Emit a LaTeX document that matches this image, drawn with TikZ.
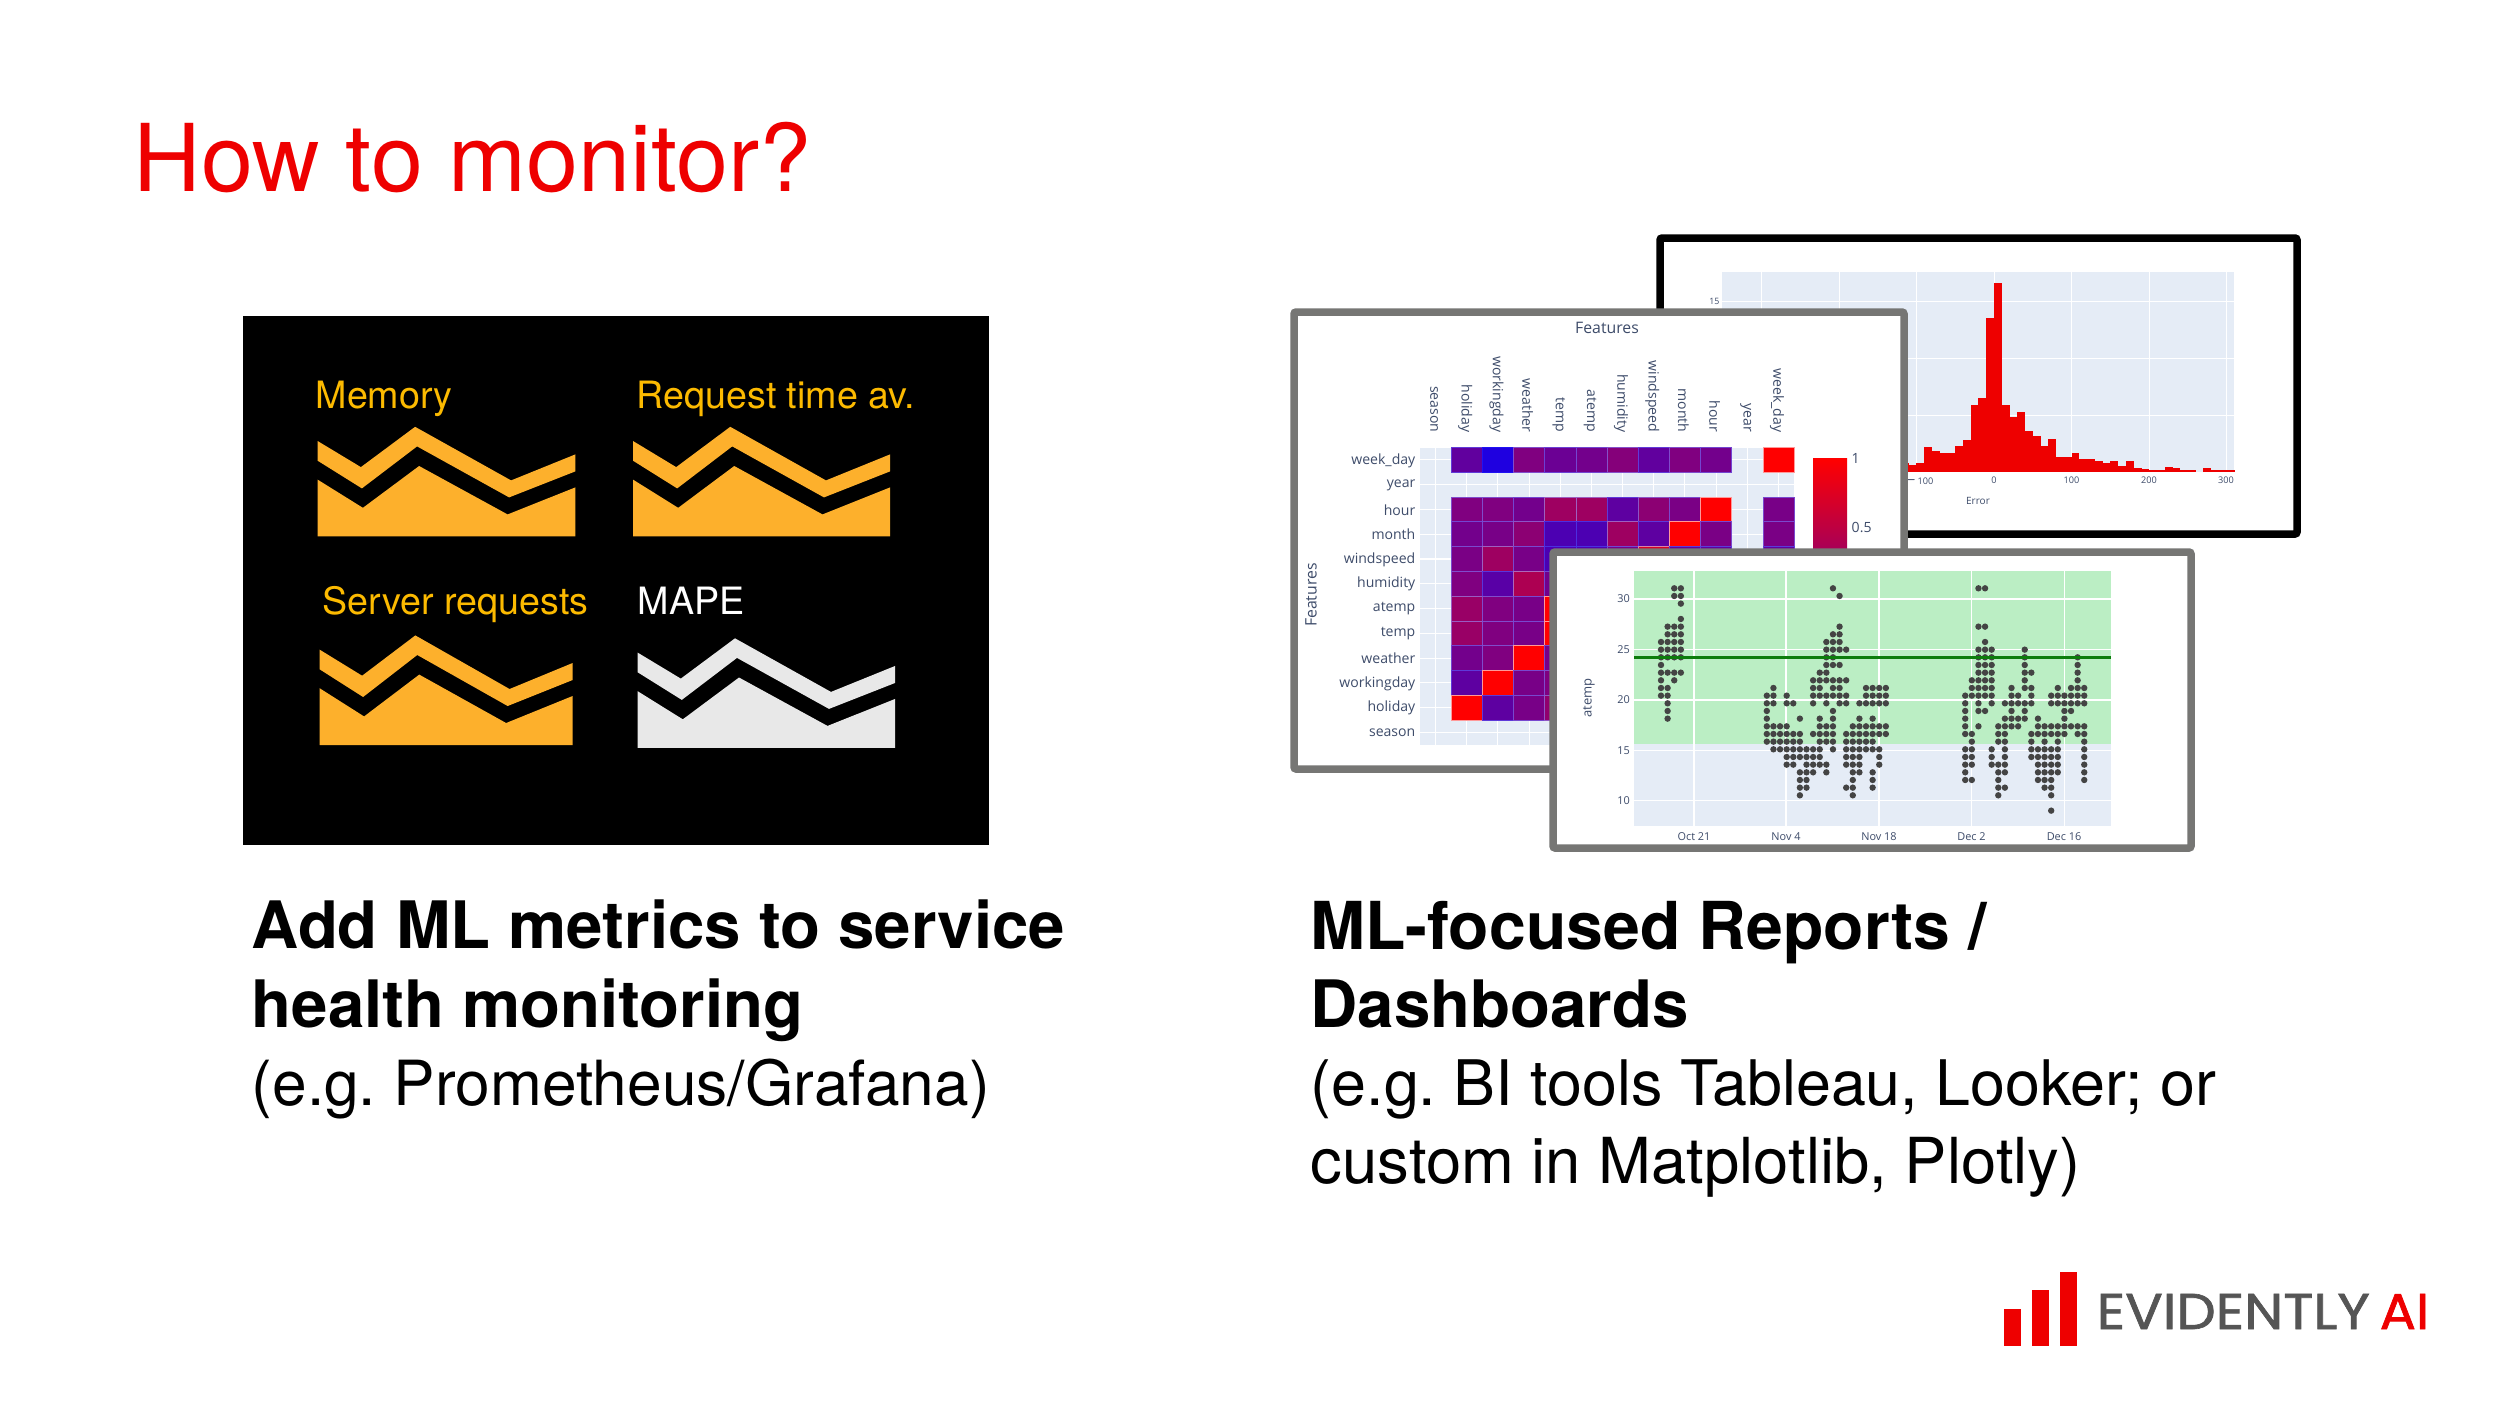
\documentclass[tikz,border=0pt]{standalone}
\usepackage{fontspec}
\setmainfont{TeX Gyre Heros}
\newfontfamily\plotfont{Open Sans}
\newfontfamily\logofont[FakeBold=1.3]{Poppins}
\usepackage{tikz}
\definecolor{titlered}{RGB}{238,0,0}
\definecolor{barorange}{RGB}{253,176,44}
\definecolor{lblorange}{RGB}{252,186,0}
\definecolor{bargrey}{RGB}{232,232,232}
\definecolor{framegrey}{RGB}{118,118,116}
\definecolor{plotbg}{RGB}{229,236,246}
\definecolor{plotgreen}{RGB}{187,238,196}
\definecolor{plotline}{RGB}{12,125,12}
\definecolor{plottext}{RGB}{62,76,106}
\definecolor{dotgrey}{RGB}{68,68,68}
\definecolor{logogrey}{RGB}{85,85,85}
\newcommand{\thinner}[1]{\fontsize{#1pt}{22.2pt}\selectfont}
\tikzset{
    lbl/.style={inner sep=0pt,anchor=base west,font=\fontsize{10.7pt}{12pt}\selectfont},
    body/.style={inner sep=0pt,anchor=north west,align=left,font=\frenchspacing\fontsize{18.6pt}{22.2pt}\selectfont},
    frm/.style={line width=0.75mm,rounded corners=0.6pt,fill=white},
    axlbl/.style={inner sep=0pt,text=plottext,font=\plotfont\fontsize{3.1pt}{4pt}\selectfont},
    heatlbl/.style={inner sep=0pt,text=plottext,font=\plotfont\fontsize{4pt}{5pt}\selectfont},
    ttl/.style={inner sep=0pt,text=plottext,font=\plotfont\fontsize{4.5pt}{5pt}\selectfont}
}
\begin{document}
\begin{tikzpicture}[x=0.01cm,y=-0.01cm]
    \useasboundingbox[fill=white] (0,0) rectangle (2500,1406);
    \node[inner sep=0pt,anchor=base west,text=titlered,font=\fontsize{26.6pt}{30pt}\selectfont] (title) at (133,191) {How to monitor?};

    % left panel
    \fill[black] (242.5,316) rectangle (989,845);
    \foreach \xc/\yc/\wc/\fc in {317.6/536.4/257.7/barorange, 633/536.4/257/barorange, 319.6/745/253/barorange, 637.5/747.9/257.7/bargrey}{
        \begin{scope}[shift={(\xc,\yc)},x=\wc*0.01cm/257.7]
            \fill[\fc] (0,-95.4) -- (43.3,-69.3) -- (97.5,-109.6) -- (193.5,-56) -- (257.7,-82) -- (257.7,-65) -- (191.5,-39) -- (99.5,-90) -- (44.3,-48) -- (0,-75.7) -- cycle;
            \fill[\fc] (0,-56.8) -- (45.3,-28.6) -- (101.5,-70.4) -- (190,-22) -- (257.7,-49) -- (257.7,0) -- (0,0) -- cycle;
        \end{scope}
    }
    \node[lbl,text=lblorange] (memory) at (315,408.5) {Memory};
    \node[lbl,text=lblorange] (reqtime) at (636,408.5) {Request time av.};
    \node[lbl,text=lblorange] (server) at (322,614) {Server requests};
    \node[lbl,text=white] (mape) at (637,614) {MAPE};

    \node[body] (lefttxt) at (251,899.5) {\textbf{Add ML metrics to service}\\\textbf{health monitoring}\\{\thinner{17.7}(e.g. Prometheus/Grafana)}};
    \node[body] (righttxt) at (1310,900.5) {{\thinner{18.8}\textbf{ML-focused Reports /}}\\\textbf{Dashboards}\\{\thinner{17.86}(e.g. BI tools Tableau, Looker; or}\\{\thinner{18.04}custom in Matplotlib, Plotly)}};

    % error histogram
    \draw[frm,draw=black] (1660,238) rectangle (2297,534);
    \fill[plotbg] (1722,272) rectangle (2234,471.7);
    \foreach \gx in {1761,1839,1916,1994,2071.5,2149,2226}
        \draw[white,line width=0.25pt] (\gx,272) -- (\gx,471.7);
    \foreach \gy in {301.3,358.3,415}
        \draw[white,line width=0.25pt] (1722,\gy) -- (2234,\gy);
    \foreach \k/\t in {-12/463.3,-11/465.3,-10/463.3,-9/446.7,-8/451,-7/452.7,-6/452.7,-5/446,-4/440,-3/405,-2/398.3,-1/317.7,0/282.7,1/404.7,2/416.7,3/412,4/431,5/435.7,6/446,7/438.7,8/457.3,9/457.3,10/452.7,11/459.3,12/459.3,13/461.3,14/463,15/461.3,16/466,17/461.3,18/467.7,19/469.3,20/470.3,21/470.3,22/467.3,23/468.3,24/470,25/470,27/468.3,28/470.3,29/470.3,30/470.3}
        \fill[titlered] ({1993.9+7.76*\k},\t) rectangle ({1993.9+7.76*(\k+1)+0.2},471.7);
    \node[inner sep=0pt,text=plottext,anchor=east,font=\plotfont\fontsize{2.5pt}{3pt}\selectfont] (histy) at (1720,301) {15};
    \foreach \lx/\ll [count=\i] in {1916/$-$100,1994/0,2071.5/100,2149/200,2226/300}
        \node[inner sep=0pt,text=plottext,font=\plotfont\fontsize{2.6pt}{3pt}\selectfont] (histx\i) at (\lx,480) {\ll};
    \node[inner sep=0pt,text=plottext,font=\plotfont\fontsize{2.85pt}{3pt}\selectfont] (histerr) at (1978,500.7) {Error};

    % correlation heatmap
    \draw[frm,draw=framegrey] (1294,312) rectangle (1904,769);
    \node[ttl] (heattitle) at (1607,328) {Features};
    \node[ttl,rotate=90] (heaty) at (1311,595) {Features};
    \fill[plotbg] (1420,447.5) rectangle (1794,744.8);
    \foreach \c in {0,...,11}{
        \draw[white,line width=0.3pt] ({1420+31.17*(\c+0.5)},447.5) -- ({1420+31.17*(\c+0.5)},744.8);
        \draw[white,line width=0.3pt] (1420,{447.5+24.775*(\c+0.5)}) -- (1794,{447.5+24.775*(\c+0.5)});
    }
    \foreach \r/\vals in {0/{0,38,12,50,42,45,52,38,50,45,0,100},2/{0,50,50,45,62,62,37,55,48,100,0,47},3/{0,45,47,55,30,30,62,37,100,48,0,48},4/{0,48,62,47,30,30,45,85,37,37,0,37},5/{0,50,35,68,45},6/{0,60,50,47,100},7/{0,60,50,47,100},8/{0,45,50,100,47},9/{0,37,100,47,50},10/{0,100,37,47,57}}
        \foreach \v [count=\c from 0] in \vals {
            \ifnum\v>0
                \fill[red!\v!blue,draw=white!60!red!\v!blue,line width=0.2pt] ({1420+31.17*\c},{447.5+24.775*\r}) rectangle ++(31.17,24.775);
            \fi
        }
    \foreach \nm [count=\i from 0] in {season,holiday,workingday,weather,temp,atemp,humidity,windspeed,month,hour,year,week\_day}{
        \node[heatlbl,rotate=-90,anchor=east] (col\i) at ({1418.5+31.17*(\i+0.5)},433) {\nm};
    }
    \foreach \nm [count=\i from 0] in {week\_day,year,hour,month,windspeed,humidity,atemp,temp,weather,workingday,holiday,season}{
        \node[heatlbl,anchor=east] (row\i) at (1416,{448+24.775*(\i+0.5)}) {\nm};
    }
    \shade[top color=red,bottom color=red!62!blue] (1813,458.7) rectangle (1847,560);
    \node[heatlbl,anchor=west] (bar1) at (1851,458) {1};
    \node[heatlbl,anchor=west] (bar05) at (1851,527) {0.5};

    % dot plot
    \draw[frm,draw=framegrey] (1553,552) rectangle (2191,848);
    \fill[plotbg] (1634,744) rectangle (2111,826);
    \fill[plotgreen] (1634,570.7) rectangle (2111,744);
    \foreach \gx in {1694,1786,1879,1971.5,2064}
        \draw[white,line width=0.3pt] (\gx,570.7) -- (\gx,826);
    \foreach \gy/\yl in {599/30,649.3/25,700/20,750.7/15,800.7/10}{
        \draw[white,line width=0.3pt] (1634,\gy) -- (2111,\gy);
        \node[axlbl,anchor=east] (dy\yl) at (1630.5,\gy) {\yl};
    }
    \foreach \gx/\dl [count=\i] in {1694/Oct 21,1786/Nov 4,1879/Nov 18,1971.5/Dec 2,2064/Dec 16}
        \node[axlbl] (dx\i) at (\gx,836.7) {\dl};
    \node[inner sep=0pt,text=plottext,rotate=90,font=\plotfont\fontsize{3.7pt}{4pt}\selectfont] (atemp) at (1589,698) {atemp};
    \foreach \r/\cols in {
        0/{2,3,26,48,49},1/{2,3,27},2/{3},4/{3},
        5/{1,2,3,27,48,49},6/{1,2,3,26,27},7/{0,1,2,3,25,26,27,49},
        8/{0,1,2,3,25,26,27,28,48,49,50,55},9/{0,1,2,3,25,26,48,49,50,55,63},
        10/{0,25,26,27,48,49,50,55,63},11/{0,1,2,3,24,25,48,49,50,55,56,63},
        12/{0,2,23,24,25,26,27,28,47,48,49,50,55,63},
        13/{0,1,17,23,24,26,27,31,32,33,34,47,48,49,50,53,55,56,60,62,63,64},
        14/{0,1,16,17,19,23,24,25,26,27,28,31,32,33,34,46,47,48,49,50,53,54,56,59,60,61,62,63,64},
        15/{1,16,17,19,20,23,25,27,28,30,31,32,33,34,46,48,50,52,53,54,55,56,59,60,61,62,63,64},
        16/{1,16,26,46,48,49,53,55,61,62},17/{1,16,21,24,26,30,32,46,52,53,54,55,57,61},
        18/{16,17,18,19,24,25,26,29,30,31,32,33,34,46,48,51,52,53,54,57,58,59,60,61,62,63,64},
        19/{16,17,18,19,20,21,23,24,25,26,28,29,30,31,32,33,34,46,47,51,52,56,57,58,59,60,61,63,64},
        20/{16,17,18,19,20,21,24,25,26,28,29,30,31,32,47,51,52,56,58,60,64},
        21/{17,18,19,20,21,22,23,24,26,28,29,30,31,32,33,46,47,50,52,56,57,58,59,60,64},
        22/{19,20,21,22,23,24,28,29,30,33,46,47,50,52,56,57,58,59,60,64},
        23/{19,20,22,23,24,25,28,29,30,33,46,47,50,51,52,57,58,59,60,64},
        24/{21,22,23,25,29,30,32,46,51,52,57,58,59,60,64},
        25/{21,22,29,32,46,47,51,57,58,59,64},26/{21,22,28,29,32,51,52,58,59},
        27/{21,29,51,59},29/{59}}
        \foreach \c in \cols
            \fill[dotgrey] ({1661+6.613*\c},{588.3+7.667*\r}) circle (3.2);
    \draw[plotline,line width=0.8pt] (1634,657.3) -- (2111,657.3);

    % logo
    \fill[titlered] (2004,1309) rectangle (2020.7,1346);
    \fill[titlered] (2032.3,1290) rectangle (2049,1346);
    \fill[titlered] (2060.3,1272) rectangle (2077,1346);
    \node[inner sep=0pt,anchor=base west,text=logogrey,font=\logofont\fontsize{14.3pt}{16pt}\selectfont] (logotxt) at (2096,1329) {\scalebox{1.105}[1]{EVIDENTLY}};
    \node[inner sep=0pt,anchor=base west,text=titlered,font=\logofont\fontsize{14.3pt}{16pt}\selectfont] (logoai) at (2379,1329) {\scalebox{1.07}[1]{AI}};
\end{tikzpicture}
\end{document}
